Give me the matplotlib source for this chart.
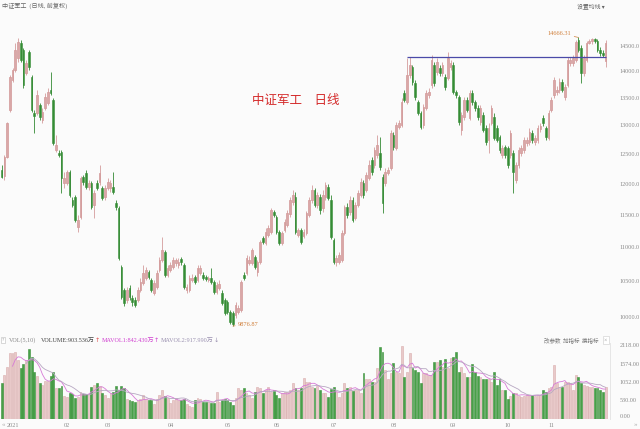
"""Daily K-line chart of 中证军工 with volume panel."""
import matplotlib
matplotlib.use("Agg")
import matplotlib.pyplot as plt
import numpy as np
import pandas as pd

# ---- data (one entry per trading day) ----
OPEN = [
    12231, 12131, 12452, 13279, 13836, 14027, 14260, 14555, 14416, 13970,
    14377, 13894, 13225, 13225, 13370, 13098, 13316, 13407, 13648, 13462,
    12571, 12520, 12537, 12015, 12015, 12198, 11738, 11787, 11313, 11468,
    12115, 12181, 11949, 12015, 11658, 12015, 12032, 11933, 11787, 11933,
    11933, 11949, 11690, 11611, 10709, 10377, 10236, 10406, 10264, 10236,
    10236, 10377, 10477, 10549, 10636, 10520, 10335, 10420, 10665, 10812,
    10931, 10592, 10665, 10709, 10767, 10738, 10826, 10738, 10377, 10377,
    10520, 10563, 10520, 10621, 10592, 10563, 10520, 10549, 10491, 10349,
    10406, 10335, 10236, 10208, 10069, 10055, 10027, 10069, 10096, 10592,
    10621, 10767, 10767, 10856, 10636, 10782, 11144, 11068, 11190, 11236,
    11547, 11468, 11236, 11068, 11266, 11344, 11516, 11706, 11787, 11190,
    11266, 11174, 11220, 11500, 11738, 11900, 11658, 11787, 11611, 11787,
    11949, 11738, 11113, 10782, 10782, 10812, 11220, 11626, 11547, 11738,
    11453, 11658, 11819, 12015, 11900, 12098, 12400, 12315, 12486, 12520,
    12115, 12015, 12181, 12265, 12832, 12606, 12973, 13009, 13592, 13425,
    13932, 14085, 13780, 13425, 13225, 13009, 13316, 13555, 13742, 14124,
    13989, 14066, 13970, 13894, 13874, 14085, 14124, 13611, 13518, 12920,
    13153, 13462, 13134, 13592, 13425, 13316, 13062, 13189, 12956, 12744,
    13045, 13153, 12956, 12797, 12486, 12623, 12606, 12486, 12520, 12065,
    12315, 12520, 12571, 12692, 12709, 12867, 12709, 12744, 12938, 13134,
    12956, 12779, 13279, 13555, 13611, 13648, 13799, 13518, 13742, 14162,
    14162, 14220, 14620, 14457, 13970, 14220, 14560, 14590, 14640, 14600,
    14416, 14360, 14200,
]
HIGH = [
    12315, 12486, 13062, 13932, 14066, 14555, 14655, 14615, 14457, 14220,
    14416, 13932, 13279, 13648, 13407, 13316, 13592, 13686, 13989, 13500,
    12832, 12571, 12571, 12198, 12231, 12231, 11787, 11819, 11500, 12131,
    12148, 12231, 12065, 12048, 11900, 12065, 12315, 11966, 11982, 12098,
    12065, 12198, 11738, 11642, 10738, 10406, 10420, 10448, 10307, 10278,
    10420, 10549, 10738, 10709, 10665, 10549, 10520, 10665, 10856, 11159,
    10961, 10738, 10782, 10856, 10841, 10841, 10856, 10767, 10463, 10592,
    10607, 10592, 10738, 10738, 10636, 10592, 10578, 10694, 10520, 10491,
    10520, 10377, 10264, 10236, 10096, 10082, 10208, 10166, 10520, 10636,
    10886, 10871, 10992, 10886, 10812, 11113, 11174, 11297, 11344, 11611,
    11579, 11500, 11266, 11251, 11437, 11579, 11787, 11900, 11868, 11297,
    11297, 11282, 11563, 11787, 11982, 11933, 11868, 11835, 11900, 12032,
    11998, 11819, 11144, 10886, 10931, 11266, 11658, 11690, 11803, 11787,
    11706, 11900, 12098, 12065, 12198, 12400, 12452, 12623, 12832, 12797,
    12165, 12265, 12281, 12920, 12885, 13062, 13098, 13500, 13648, 14260,
    14270, 14124, 13836, 13462, 13261, 13389, 13648, 13686, 14318, 14182,
    14260, 14124, 14182, 13951, 14377, 14220, 14182, 13648, 13555, 13243,
    13518, 13518, 13648, 13648, 13462, 13370, 13370, 13243, 13009, 13045,
    13370, 13225, 13009, 12832, 12657, 12657, 12640, 12920, 12571, 12366,
    12623, 12657, 12797, 12797, 12956, 12920, 12832, 13009, 13045, 13189,
    12991, 13279, 13518, 13894, 13723, 13874, 13856, 13761, 14279, 14279,
    14318, 14620, 14666.31, 14516, 14318, 14600, 14630, 14650, 14655, 14640,
    14475, 14416, 14620,
]
LOW = [
    12098, 12065, 12435, 13243, 13799, 13989, 14182, 14182, 13686, 13932,
    14027, 13243, 12867, 13189, 13098, 13045, 13279, 13370, 13555, 12657,
    12537, 12452, 11851, 11933, 11982, 11787, 11626, 11390, 11236, 11437,
    11982, 11917, 11900, 11595, 11453, 11900, 11982, 11738, 11738, 11900,
    11868, 11835, 11579, 10812, 10250, 10152, 10194, 10236, 10152, 10138,
    10208, 10349, 10448, 10520, 10534, 10349, 10307, 10391, 10636, 10782,
    10563, 10563, 10636, 10679, 10723, 10694, 10738, 10391, 10335, 10349,
    10491, 10463, 10491, 10592, 10520, 10506, 10491, 10463, 10321, 10321,
    10377, 10166, 10027, 10041, 9905, 9876.87, 9986, 10041, 10069, 10520,
    10592, 10738, 10738, 10679, 10578, 10752, 11052, 11037, 11159, 11205,
    11468, 11205, 11037, 11037, 11236, 11313, 11468, 11658, 11205, 11159,
    11052, 11144, 11190, 11468, 11690, 11626, 11611, 11516, 11547, 11738,
    11738, 11128, 10752, 10723, 10752, 10782, 11190, 11453, 11500, 11390,
    11421, 11626, 11787, 11770, 11868, 12065, 12148, 12265, 12435, 12231,
    11531, 11966, 12148, 12231, 12571, 12571, 12938, 12973, 13425, 13389,
    13874, 13742, 13462, 13189, 12938, 12956, 13279, 13500, 13686, 13723,
    13932, 13913, 13913, 13648, 13836, 14027, 13574, 13500, 13009, 12832,
    13098, 13243, 13098, 13370, 13261, 13098, 13009, 12885, 12657, 12520,
    13009, 12744, 12709, 12520, 12435, 12435, 12265, 12435, 11851, 12015,
    12265, 12469, 12520, 12640, 12657, 12692, 12657, 12692, 12885, 12991,
    12744, 12744, 13243, 13500, 13555, 13592, 13611, 13462, 13704, 14105,
    14105, 14182, 14380, 13780, 13913, 14182, 14535, 14540, 14560, 14377,
    14298, 14279, 14085,
]
CLOSE = [
    12115, 12452, 13045, 13894, 14027, 14416, 14575, 14220, 13742, 14162,
    14085, 13279, 13171, 13555, 13153, 13243, 13518, 13611, 13592, 12692,
    12657, 12486, 12098, 12098, 12198, 11819, 11658, 11421, 11421, 12098,
    12032, 11949, 12015, 11626, 11851, 11933, 12181, 11770, 11933, 12032,
    12015, 11868, 11626, 10841, 10278, 10194, 10377, 10278, 10208, 10166,
    10377, 10491, 10621, 10665, 10563, 10377, 10477, 10621, 10812, 10961,
    10592, 10694, 10738, 10812, 10812, 10782, 10782, 10420, 10420, 10549,
    10549, 10491, 10694, 10694, 10549, 10534, 10549, 10491, 10349, 10448,
    10463, 10194, 10055, 10069, 9932, 9905, 10166, 10124, 10491, 10549,
    10841, 10812, 10961, 10709, 10782, 11083, 11083, 11236, 11297, 11579,
    11500, 11236, 11068, 11220, 11390, 11531, 11738, 11819, 11236, 11266,
    11083, 11236, 11531, 11738, 11900, 11658, 11819, 11579, 11819, 11982,
    11770, 11159, 10782, 10841, 10886, 11220, 11626, 11500, 11738, 11421,
    11658, 11851, 12032, 11819, 12148, 12315, 12198, 12571, 12657, 12281,
    11690, 12198, 12231, 12867, 12623, 13009, 13045, 13425, 13462, 13932,
    14124, 13799, 13518, 13225, 12973, 13334, 13592, 13611, 14220, 13780,
    14182, 13970, 14124, 13704, 14260, 14162, 13611, 13555, 13062, 13189,
    13462, 13279, 13592, 13425, 13316, 13153, 13316, 12920, 12709, 12956,
    13316, 12779, 12744, 12571, 12606, 12486, 12315, 12867, 12198, 12315,
    12571, 12606, 12744, 12744, 12885, 12744, 12779, 12956, 12991, 13045,
    12797, 13225, 13462, 13836, 13648, 13799, 13648, 13704, 14220, 14220,
    14260, 14580, 14420, 13970, 14260, 14560, 14600, 14640, 14600, 14416,
    14357, 14318, 14560,
]
# volume in 万
VOLUME = [
    1017, 1254, 1492, 1872, 1891, 1919, 1682, 1444, 1568, 1682,
    1986, 1777, 1349, 1226, 1036, 969, 1093, 1093, 1226, 1349,
    874, 893, 940, 655, 617, 732, 703, 589, 637, 779,
    713, 713, 713, 922, 969, 1017, 940, 732, 684, 589,
    732, 779, 940, 827, 940, 874, 561, 542, 503, 494,
    513, 561, 684, 561, 542, 542, 428, 561, 684, 827,
    655, 589, 447, 542, 589, 542, 542, 561, 428, 371,
    352, 542, 589, 561, 494, 494, 494, 447, 466, 779,
    494, 542, 561, 542, 494, 399, 589, 874, 827, 874,
    732, 684, 589, 779, 922, 874, 732, 827, 922, 779,
    827, 684, 589, 732, 779, 779, 827, 1017, 874, 827,
    874, 1159, 1064, 1064, 922, 874,
    940, 827, 732, 732, 637, 846, 902, 779, 637, 732,
    1036, 874, 922, 808, 827, 827, 732, 1302, 1131, 1131,
    1064, 1064, 1444, 2062, 1919, 1397, 1131, 1302, 1587, 1349,
    1302, 2081, 1207, 1349, 1872, 1444, 1397, 1349, 1036, 1302,
    1302, 1254, 1254, 1634, 1634, 1682, 1492, 1701, 1444, 1729,
    1777, 1919, 1349, 1492, 1302, 1207, 1207, 1568, 1349, 1226,
    1188, 1131, 1131, 1131, 1064, 1330, 969, 1131, 827, 827,
    561, 655, 750, 750, 655, 637, 655, 684, 684, 684,
    655, 684, 684, 827, 779, 874, 922, 1539,
    1036, 922, 922, 1064, 1064, 1017, 827, 1254, 1188, 1017,
    969, 940, 922, 922, 874, 874, 827, 779, 903.536,
]
MONTH_STARTS = [4, 24, 39, 62, 83, 101, 122, 144, 166, 186, 202]
MONTH_LABELS = ["2021", "02", "03", "04", "05", "06", "07", "08", "09", "10", "11"]
PRICE_TICKS = [10000, 10500, 11000, 11500, 12000, 12500, 13000, 13500, 14000, 14500]
VOL_TICKS = [0, 530, 1052, 1574, 2118]
LINE_LEVEL = 14270          # horizontal line drawn on the chart
LINE_FROM, LINE_TO = 149, 222

UP_FACE, UP_EDGE = "#f6e3e3", "#d49c9c"
DN_FACE, DN_EDGE = "#3f9b3f", "#348a34"
BG = "#fbfbfb"
TXT = "#8a8a8a"
FONT = ["Liberation Serif", "Noto Sans CJK SC", "DejaVu Sans"]
CJK = ["Noto Sans CJK SC"]

W, H = 640, 429


def fx(x):
    return x / W


def fy(y):
    return 1 - y / H


def main():
    plt.rcParams["font.family"] = FONT
    o, h, l, c = map(np.asarray, (OPEN, HIGH, LOW, CLOSE))
    vol = np.asarray(VOLUME, dtype=float)
    idx = np.arange(len(c))
    up = c >= o

    fig = plt.figure(figsize=(6.4, 4.29), dpi=100, facecolor=BG)

    # ---- price panel ----
    ax = fig.add_axes([0, fy(332), fx(610), (332 - 15) / H], facecolor=BG)
    ax.set_yscale("log")
    ax.set_ylim(9797, 15124)
    ax.set_xlim(-0.6, 223.6)
    ax.vlines(idx[up], l[up], h[up], color=UP_EDGE, lw=0.6)
    ax.vlines(idx[~up], l[~up], h[~up], color=DN_EDGE, lw=0.6)
    body_lo = np.minimum(o, c)
    body_h = np.abs(c - o)
    ax.bar(idx[up], body_h[up], bottom=body_lo[up], width=0.62,
           color=UP_FACE, edgecolor=UP_EDGE, linewidth=0.6)
    ax.bar(idx[~up], body_h[~up], bottom=body_lo[~up], width=0.62,
           color=DN_FACE, edgecolor=DN_EDGE, linewidth=0.4)
    ax.hlines(LINE_LEVEL, LINE_FROM, LINE_TO, color="#4a4aa8", lw=0.9)

    hi_i = int(np.argmax(h))
    lo_i = int(np.argmin(l))
    ax.annotate(f"{h[hi_i]:.2f}", xy=(hi_i, h[hi_i]), xytext=(-7, 4),
                textcoords="offset pixels", ha="right", va="center",
                fontsize=4.6, color="#d0803c",
                arrowprops=dict(arrowstyle="-", color="#d0803c", lw=0.5,
                                shrinkA=0, shrinkB=0))
    ax.annotate(f"{l[lo_i]:.2f}", xy=(lo_i, l[lo_i]), xytext=(5, 2),
                textcoords="offset pixels", ha="left", va="center",
                fontsize=4.6, color="#d0803c",
                arrowprops=dict(arrowstyle="-", color="#d0803c", lw=0.5,
                                shrinkA=0, shrinkB=0))

    ax.yaxis.tick_right()
    ax.yaxis.set_minor_locator(plt.NullLocator())
    ax.set_yticks(PRICE_TICKS)
    ax.set_yticklabels([f"{t:.1f}" for t in PRICE_TICKS])
    ax.tick_params(axis="y", length=0, pad=7, labelsize=4.4, labelcolor=TXT)
    ax.set_xticks([])
    for s in ax.spines.values():
        s.set_visible(False)

    # ---- volume panel ----
    av = fig.add_axes([0, fy(419), fx(610), (419 - 343) / H], facecolor=BG)
    av.set_xlim(-0.6, 223.6)
    av.set_ylim(0, 2166)
    av.bar(idx[up], vol[up], width=0.7, color="#e8c9c9", edgecolor="#d8acac", linewidth=0.4)
    av.bar(idx[~up], vol[~up], width=0.7, color="#48a048", edgecolor="#3b903b", linewidth=0.4)
    ma5 = pd.Series(vol).rolling(5).mean()
    ma10 = pd.Series(vol).rolling(10).mean()
    av.plot(idx, ma5, color="#d77ad7", lw=0.6)
    av.plot(idx, ma10, color="#b7a7c2", lw=0.6)
    av.yaxis.tick_right()
    av.set_yticks(VOL_TICKS)
    av.set_yticklabels([f"{t:.2f}" for t in VOL_TICKS])
    av.get_yticklabels()[0].set_va("bottom")
    av.tick_params(axis="y", length=0, pad=7, labelsize=4.4, labelcolor=TXT)
    av.set_xticks(MONTH_STARTS)
    av.set_xticklabels(MONTH_LABELS)
    av.tick_params(axis="x", length=0, pad=3, labelsize=4.4, labelcolor=TXT)
    for name, s in av.spines.items():
        s.set_visible(name == "right")
    av.spines["right"].set_color("#e2e2e2")
    av.spines["right"].set_linewidth(0.6)

    # ---- header / overlay texts ----
    fig.text(fx(2), fy(6), "中证军工  (日线, 前复权)", fontsize=4.4, color="#666666", va="center")
    fig.text(fx(577), fy(6), "设置均线 ▾", fontsize=4.2, color="#666666", va="center",
             family=CJK + ["DejaVu Sans"])
    fig.text(fx(296), fy(100), "中证军工　日线", fontsize=9, color="#d42a2a",
             ha="center", va="center", family=CJK)

    hy = fy(340)
    fig.text(fx(2), hy, "?", fontsize=3.8, color="#999999", va="center",
             bbox=dict(boxstyle="square,pad=0.15", fc="white", ec="#bbbbbb", lw=0.4))
    fig.text(fx(9), hy, "VOL(5,10)", fontsize=4.4, color="#888888", va="center")
    fig.text(fx(41), hy, "VOLUME:903.536万", fontsize=4.4, color="#444444", va="center")
    fig.text(fx(95), hy, "↑", fontsize=4.6, color="#e05050", va="center", family=["DejaVu Sans"])
    fig.text(fx(102), hy, "MAVOL1:842.430万", fontsize=4.4, color="#d040d0", va="center")
    fig.text(fx(154), hy, "↑", fontsize=4.6, color="#d040d0", va="center", family=["DejaVu Sans"])
    fig.text(fx(161), hy, "MAVOL2:917.990万", fontsize=4.4, color="#9a90b0", va="center")
    fig.text(fx(214), hy, "↓", fontsize=4.6, color="#9a90b0", va="center", family=["DejaVu Sans"])
    fig.text(fx(599), hy, "改参数  加指标  换指标", fontsize=4.0, color="#777777",
             va="center", ha="right", family=CJK)
    fig.text(fx(604), hy, "×", fontsize=4.2, color="#999999", va="center",
             bbox=dict(boxstyle="square,pad=0.2", fc="white", ec="#cccccc", lw=0.4))
    fig.text(fx(2), fy(424), "«", fontsize=5, color="#aaaaaa", va="center")
    fig.text(fx(634), fy(424), "»", fontsize=5, color="#aaaaaa", va="center")

    fig.savefig("out.png", dpi=100, facecolor=BG)
    plt.close(fig)


if __name__ == "__main__":
    main()
